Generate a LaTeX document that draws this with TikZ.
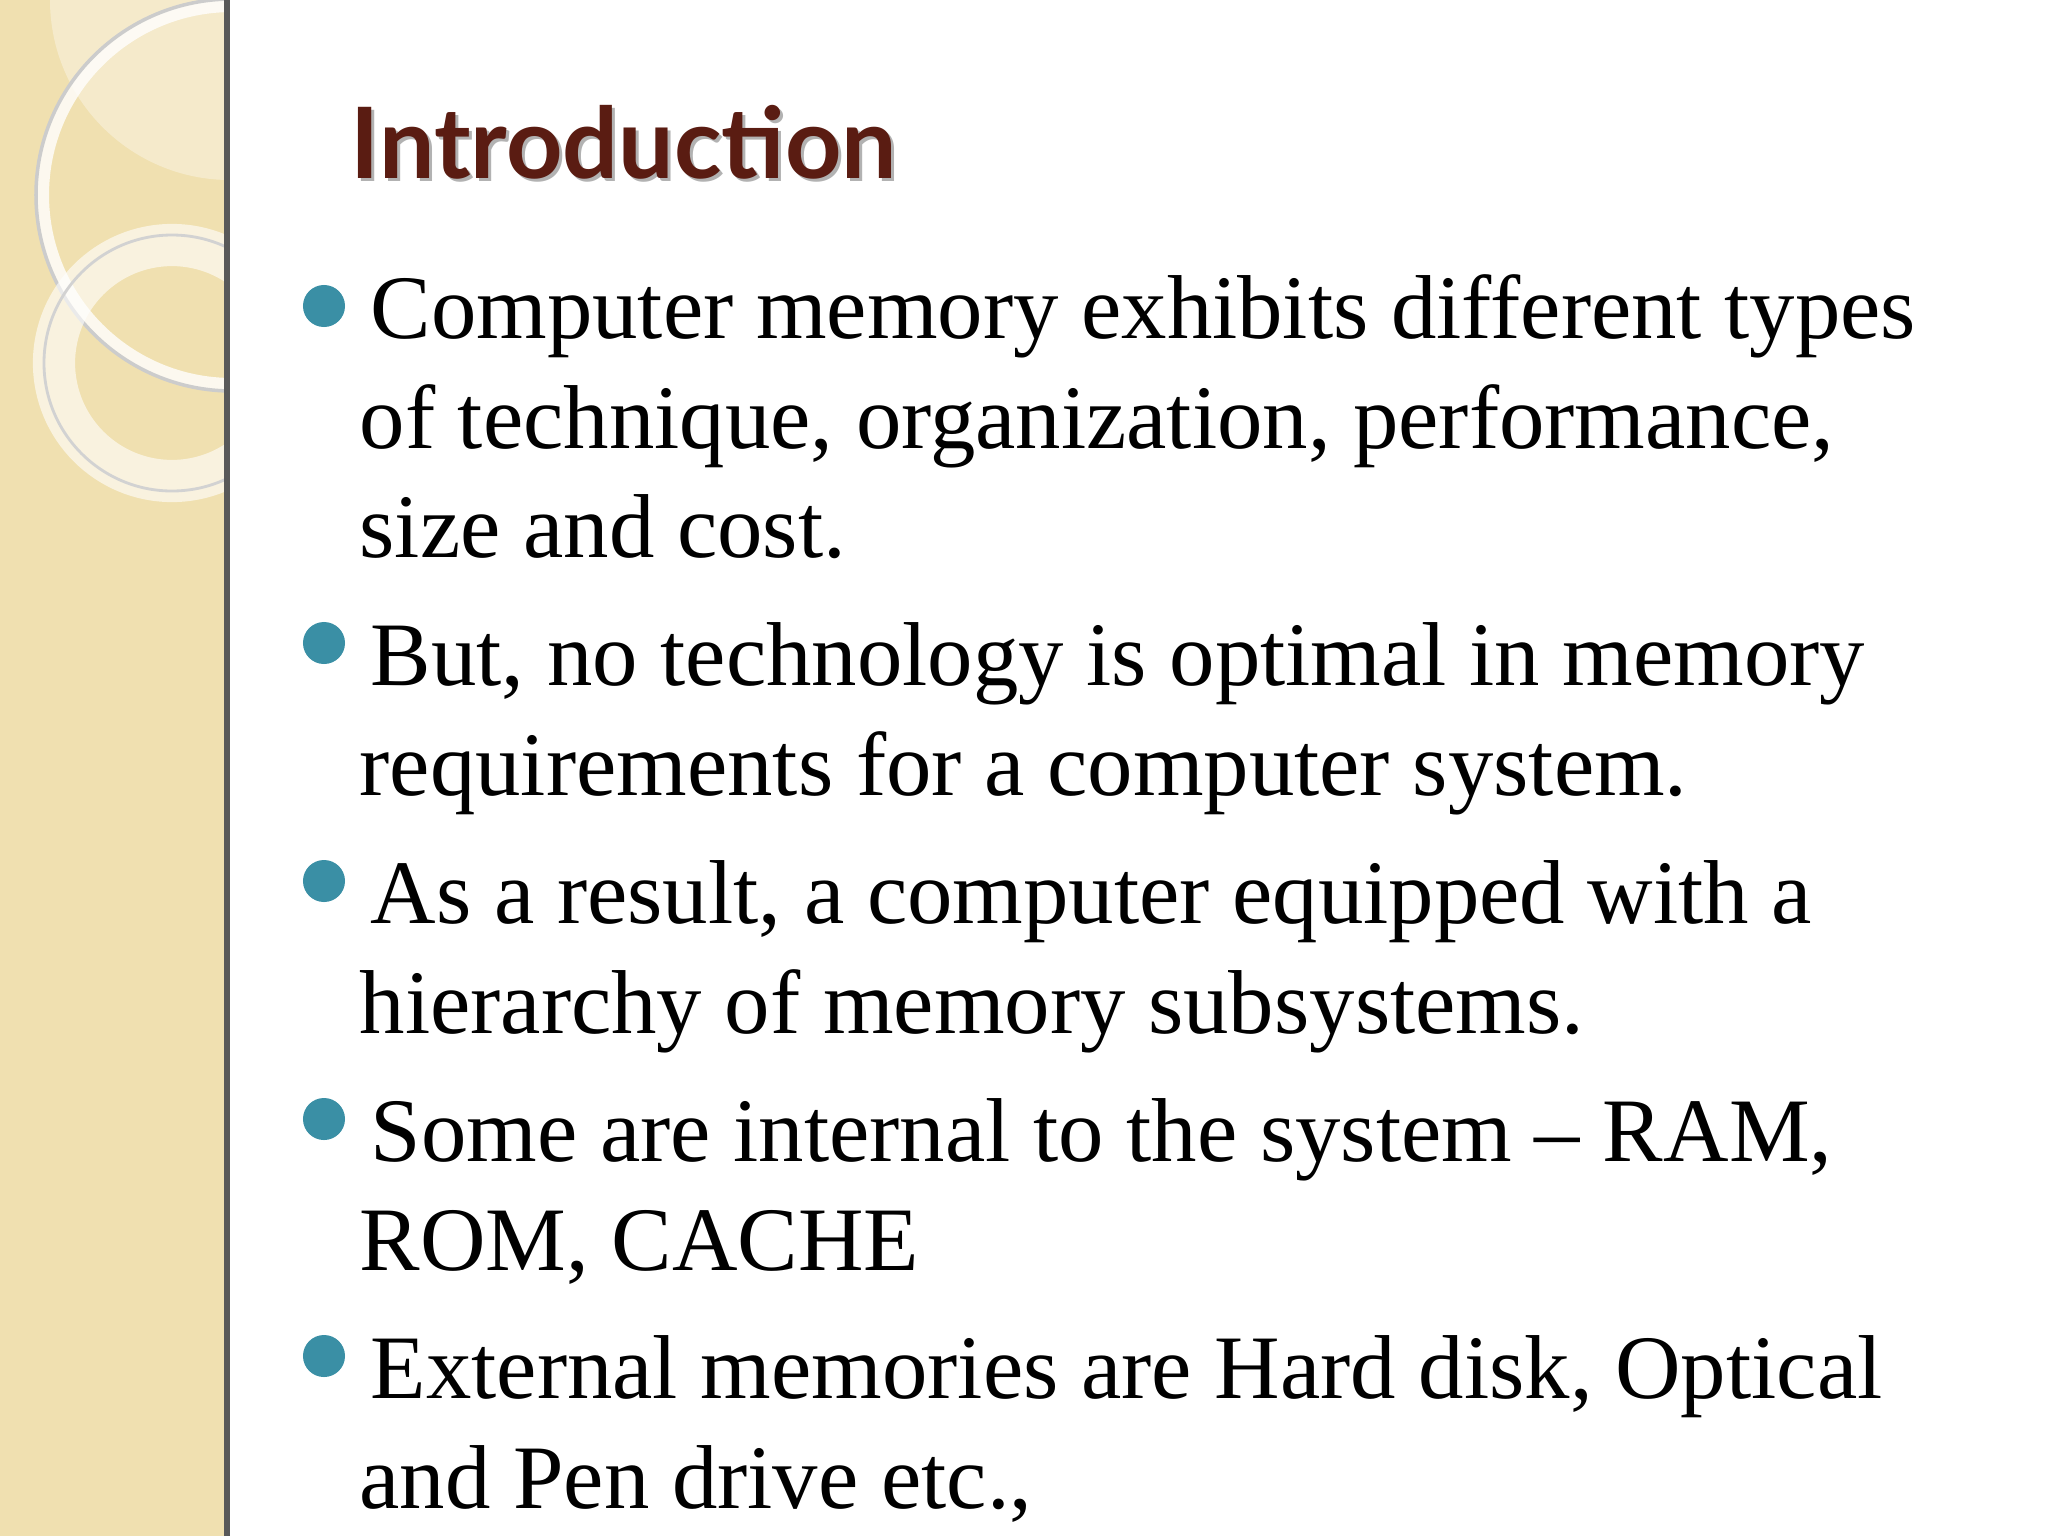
\documentclass[tikz,border=0pt]{standalone}
\usepackage{fontspec}
\setmainfont{Liberation Serif}
\newfontfamily\titlefont{Lato}
\definecolor{strip}{RGB}{240,224,176}
\definecolor{bul}{RGB}{58,143,165}
\definecolor{ttl}{RGB}{90,28,18}
\begin{document}
\begin{tikzpicture}[x=0.01cm,y=-0.01cm,
  bl/.style={anchor=base west,inner sep=0pt,font=\fontsize{25.8}{30}\selectfont},
  dot/.style={circle,fill=bul,inner sep=0pt,minimum size=0.42cm}]
\useasboundingbox (0,0) rectangle (2048,1536);
\fill[white] (0,0) rectangle (2048,1536);
\fill[strip] (0,0) rectangle (227,1536);
\begin{scope}
\clip (0,0) rectangle (227,1536);
\fill[white,opacity=0.35] (230,0) circle (180);
\draw[white,line width=4pt,opacity=0.8] (232,195) circle (190);
\draw[gray!40,line width=1pt] (232,195) circle (196);
\draw[white,line width=12pt,opacity=0.6] (172,363) circle (118);
\draw[gray!35,line width=0.8pt] (172,363) circle (128);
\end{scope}
\draw[gray!70!black,line width=1.5pt] (227,0) -- (227,1536);
\node[anchor=base west,inner sep=0pt,font=\titlefont\bfseries\fontsize{28}{32}\selectfont,text=gray!60] (tsh) at (353,181) {Introduction};
\node[anchor=base west,inner sep=0pt,font=\titlefont\bfseries\fontsize{28}{32}\selectfont,text=ttl] (title) at (350,178) {Introduction};
\foreach \y/\n in {306/b1,643/b2,881/b3,1119/b4,1356/b5} \node[dot] (\n) at (324,\y) {};
\node[bl] (l1) at (370,338) {Computer memory exhibits different types};
\node[bl] (l2) at (359,448) {of technique, organization, performance,};
\node[bl] (l3) at (359,557) {size and cost.};
\node[bl] (l4) at (370,685) {But, no technology is optimal in memory};
\node[bl] (l5) at (359,795) {requirements for a computer system.};
\node[bl] (l6) at (370,923) {As a result, a computer equipped with a};
\node[bl] (l7) at (359,1033) {hierarchy of memory subsystems.};
\node[bl] (l8) at (370,1161) {Some are internal to the system -- RAM,};
\node[bl] (l9) at (359,1270) {ROM, CACHE};
\node[bl] (l10) at (370,1398) {External memories are Hard disk, Optical};
\node[bl] (l11) at (359,1508) {and Pen drive etc.,};
\end{tikzpicture}
\end{document}
